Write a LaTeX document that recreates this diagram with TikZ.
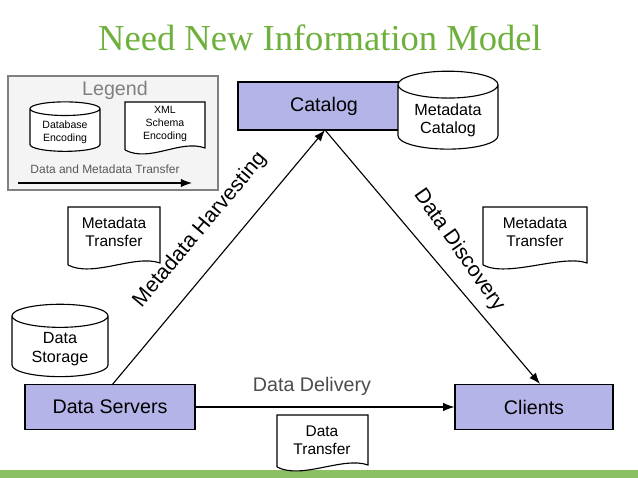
\documentclass[tikz,border=0pt]{standalone}
\usepackage{fontspec}
\setmainfont{Liberation Sans}
\newfontfamily\titlefont{Liberation Serif}
\usetikzlibrary{positioning,arrows.meta}
\usetikzlibrary{shapes.geometric}
\definecolor{boxblue}{RGB}{180,180,232}
\definecolor{titlegreen}{RGB}{110,176,60}
\definecolor{legendgray}{RGB}{244,244,244}
\tikzstyle{box}=[draw, thick, fill=boxblue, font=\fontsize{14}{16}\selectfont]
\tikzstyle{db}=[draw, thick, fill=white, cylinder, shape border rotate=90, aspect=0.35, align=center]
\tikzstyle{doc}=[align=center, font=\fontsize{11}{13}\selectfont]
\tikzstyle{flow}=[-{Latex[length=8pt,width=6pt]}, thick]
\newcommand{\docpath}[4]{% x1 y1 x2 y2
  \draw[thick, fill=white] (#1,#4-5) -- (#1,#2) -- (#3,#2) -- (#3,#4-7)
    .. controls (#3-25,#4-16) and (#1+25,#4+8) .. (#1,#4-5);}

\begin{document}
\begin{tikzpicture}[x=0.025cm, y=-0.025cm]
	\useasboundingbox (0,0) rectangle (638,478);
	\fill[titlegreen!80] (0,470) rectangle (638,478);
	\node[text=titlegreen, font=\titlefont\fontsize{26}{28}\selectfont] (title) at (320,38) {Need New Information Model};

	% legend
	\draw[thick, fill=legendgray, draw=gray] (8,76) rectangle (218,190);
	\node[text=gray, font=\fontsize{14}{16}\selectfont] (leg) at (115,90) {Legend};
	\node[db, aspect=0.25, minimum width=70*0.025cm, minimum height=46*0.025cm, font=\fontsize{7.5}{9}\selectfont] (dbenc) at (65,132) {Database\\Encoding};
	\docpath{125}{102}{205}{155}
	\node[doc, font=\fontsize{7.5}{9}\selectfont] (xml) at (165,124) {XML\\Schema\\Encoding};
	\node[text=gray!70!black, font=\fontsize{8.5}{10}\selectfont] (legtxt) at (105,169) {Data and Metadata Transfer};
	\coordinate (la) at (18,183);
	\coordinate (lb) at (192,183);
	\draw[flow] (la) -- (lb);

	% main nodes
	\node[box, minimum width=172*0.025cm, minimum height=48*0.025cm] (cat) at (324,106) {Catalog};
	\node[db, minimum width=100*0.025cm, minimum height=72*0.025cm, font=\fontsize{11.5}{13}\selectfont] (mcat) at (448,120) {Metadata\\Catalog};
	\node[db, minimum width=96*0.025cm, minimum height=62*0.025cm, font=\fontsize{11.5}{13}\selectfont] (store) at (60,349) {Data\\Storage};
	\node[box, minimum width=170*0.025cm, minimum height=45*0.025cm] (srv) at (110,407) {Data Servers};
	\node[box, minimum width=158*0.025cm, minimum height=45*0.025cm] (cli) at (534,407) {Clients};

	% documents
	\docpath{68}{207}{160}{270}
	\node[doc] (mt1) at (114,232) {Metadata\\Transfer};
	\docpath{483}{207}{587}{270}
	\node[doc] (mt2) at (535,232) {Metadata\\Transfer};
	\docpath{277}{415}{368}{472}
	\node[doc] (dt) at (322,440) {Data\\Transfer};

	% flows
	\draw[flow] (112,385) -- (325,130);
	\draw[flow] (325,130) -- (540,384);
	\draw[flow] (srv) -- (cli);
	\node[rotate=50, font=\fontsize{15}{17}\selectfont] (harv) at (200,230) {Metadata Harvesting};
	\node[rotate=-55, font=\fontsize{15}{17}\selectfont] (disc) at (459,250) {Data Discovery};
	\node[text=gray!60!black, font=\fontsize{14}{16}\selectfont] (deliv) at (312,386) {Data Delivery};
\end{tikzpicture}
\end{document}
